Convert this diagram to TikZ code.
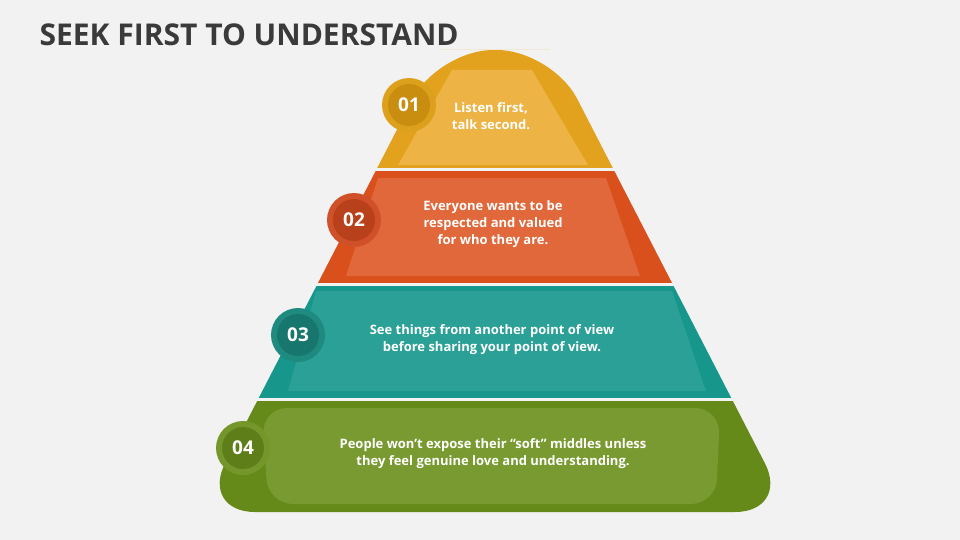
\documentclass[tikz,border=0pt]{standalone}
\usepackage{fontspec}
\setmainfont{Open Sans}
\definecolor{bg}{HTML}{F2F2F2}
\definecolor{ttl}{HTML}{3A3A3A}
\definecolor{yA}{HTML}{E3A21E}\definecolor{yB}{HTML}{EDB344}\definecolor{yC}{HTML}{C98D10}\definecolor{yR}{HTML}{DDA01C}
\definecolor{oA}{HTML}{D9501C}\definecolor{oB}{HTML}{E0683A}\definecolor{oC}{HTML}{B8401A}\definecolor{oR}{HTML}{D0502A}
\definecolor{tA}{HTML}{17968C}\definecolor{tB}{HTML}{2AA096}\definecolor{tC}{HTML}{17766E}\definecolor{tR}{HTML}{1E8A80}
\definecolor{gA}{HTML}{668A1A}\definecolor{gB}{HTML}{789A30}\definecolor{gC}{HTML}{5E7E1A}\definecolor{gR}{HTML}{74962A}
\tikzset{txt/.style={text=white,align=center,font=\fontsize{13}{17}\selectfont\bfseries},
num/.style={circle,minimum size=54pt,text=white,font=\fontsize{19}{20}\selectfont\bfseries}}
\newcommand{\pyr}{(495,52) -- (548,52) -- (800,520) -- (190,520) -- (442,52) -- cycle}
\begin{document}
\begin{tikzpicture}[x=1pt,y=-1pt]
\fill[bg] (0,0) rectangle (960,540);
\node[anchor=west,text=ttl,font=\fontsize{30}{34}\selectfont\bfseries] (title) at (36,35) {SEEK FIRST TO UNDERSTAND};
\begin{scope}
\clip[rounded corners=55] (495,50) -- (552,50) -- (790,512) -- (200,512) -- (438,50) -- cycle;
\fill[yA] (150,40) rectangle (850,168);
\fill[oA] (150,171) rectangle (850,283);
\fill[tA] (150,286) rectangle (850,398);
\fill[gA] (150,401) rectangle (850,520);
\fill[yB] (452,70) -- (532,70) -- (588,165) -- (398,165) -- cycle;
\fill[oB] (378,178) -- (606,178) -- (640,276) -- (346,276) -- cycle;
\fill[tB] (316,291) -- (672,291) -- (706,391) -- (288,391) -- cycle;
\fill[gB,rounded corners=25] (262,408) -- (720,408) -- (716,504) -- (268,504) -- cycle;
\end{scope}
\node[num,fill=yR] (c1) at (409,105) {}; \node[num,minimum size=42pt,fill=yC] at (c1) {01};
\node[num,fill=oR] (c2) at (354,220) {}; \node[num,minimum size=42pt,fill=oC] at (c2) {02};
\node[num,fill=tR] (c3) at (298,335) {}; \node[num,minimum size=42pt,fill=tC] at (c3) {03};
\node[num,fill=gR] (c4) at (243,448) {}; \node[num,minimum size=42pt,fill=gC] at (c4) {04};
\node[txt] (t1) at (491,116) {Listen first,\\talk second.};
\node[txt] (t2) at (493,224) {Everyone wants to be\\respected and valued\\for who they are.};
\node[txt] (t3) at (492,340) {See things from another point of view\\before sharing your point of view.};
\node[txt] (t4) at (493,454) {People won’t expose their “soft” middles unless\\they feel genuine love and understanding.};
\end{tikzpicture}
\end{document}
